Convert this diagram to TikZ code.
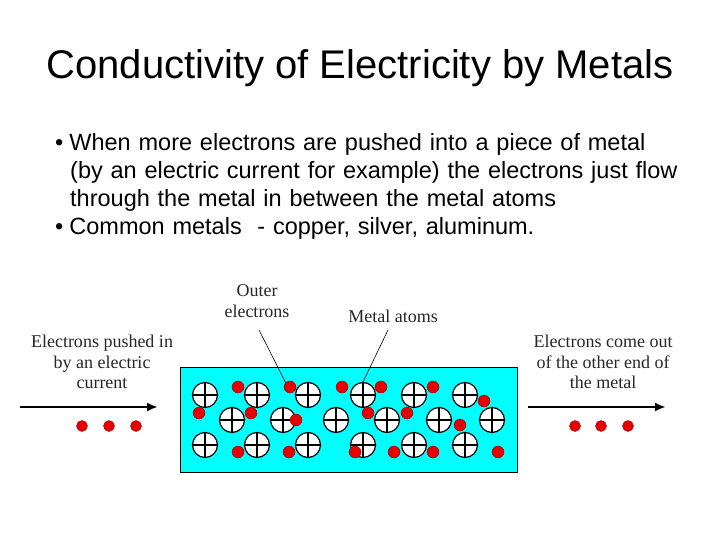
\documentclass[tikz,border=0pt]{standalone}
\usepackage{fontspec}
\usetikzlibrary{arrows.meta}
\setmainfont{Liberation Sans}
\newfontfamily\serifx{Liberation Serif}
\definecolor{aqua}{RGB}{0,255,255}
\definecolor{ered}{RGB}{230,0,0}
\begin{document}
\begin{tikzpicture}[x=1pt,y=-1pt,
 atom/.style={circle,draw,line width=1.2pt,fill=white,minimum size=25pt,inner sep=0pt},
 elec/.style={circle,fill=ered,draw=red!60!black,line width=0.4pt,minimum size=12pt,inner sep=0pt},
 lab/.style={font=\serifx\fontsize{18}{20.5}\selectfont,align=center,text=black!85},
 arr/.style={-{Latex[length=11pt,width=9pt]},line width=2.5pt}]
\useasboundingbox (0,0) rectangle (720,540);
\node[font=\fontsize{40}{46}\selectfont] (title) at (360,68) {Conductivity of Electricity by Metals};
\node[anchor=north west,text width=680pt,align=left,font=\fontsize{23.5}{28}\selectfont,inner sep=0pt] (bul) at (55,133)
{\textbullet\hspace{6pt}When more electrons are pushed into a piece of metal\\
\hspace*{15pt}(by an electric current for example) the electrons just flow\\
\hspace*{15pt}through the metal in between the metal atoms\\
\textbullet\hspace{6pt}Common metals\ \ - copper, silver, aluminum.};
\node[draw,line width=1pt,fill=aqua,minimum width=337pt,minimum height=105pt,anchor=north west,inner sep=0pt] (bar) at (180,367) {};
\foreach \x [count=\i] in {205,257,308,363,414,465}{
  \foreach \y/\r in {395/a,445/c}{
   \node[atom] (\r\i) at (\x,\y) {};
   \draw[line width=1.2pt] (\r\i.north) -- (\r\i.south) (\r\i.west) -- (\r\i.east);}}
\foreach \x [count=\i] in {232,283,336,387,439,492}{
   \node[atom] (b\i) at (\x,420) {};
   \draw[line width=1.2pt] (b\i.north) -- (b\i.south) (b\i.west) -- (b\i.east);}
\foreach \p [count=\i] in {{238,387},{290,387},{342,387},{381,387},{433,387},{484,401},
 {199,413},{251,413},{296,420},{368,413},{407,413},{460,425},
 {238,452},{289,452},{355,452},{394,452},{433,452},{498,452}}
  \node[elec] (e\i) at (\p) {};
\node[lab] (outer) at (257,301) {Outer\\electrons};
\node[lab] (metal) at (393,316) {Metal atoms};
\coordinate (o1) at (259,330); \coordinate (m1) at (388,330);
\draw[line width=0.6pt] (o1) -- (e2.north west);
\draw[line width=0.6pt] (m1) -- (a4.north);
\node[lab] (left) at (102,362) {Electrons pushed in\\by an electric\\current};
\node[lab] (right) at (603,362) {Electrons come out\\of the other end of\\the metal};
\coordinate (l1) at (20,407); \coordinate (l2) at (158,407);
\coordinate (r1) at (528,407); \coordinate (r2) at (666,407);
\draw[arr] (l1) -- (l2);
\draw[arr] (r1) -- (r2);
\foreach \x [count=\i] in {82,109,136}{\node[elec,minimum size=11pt] (le\i) at (\x,426) {};}
\foreach \x [count=\i] in {575,601,628}{\node[elec,minimum size=11pt] (re\i) at (\x,426) {};}
\end{tikzpicture}
\end{document}
